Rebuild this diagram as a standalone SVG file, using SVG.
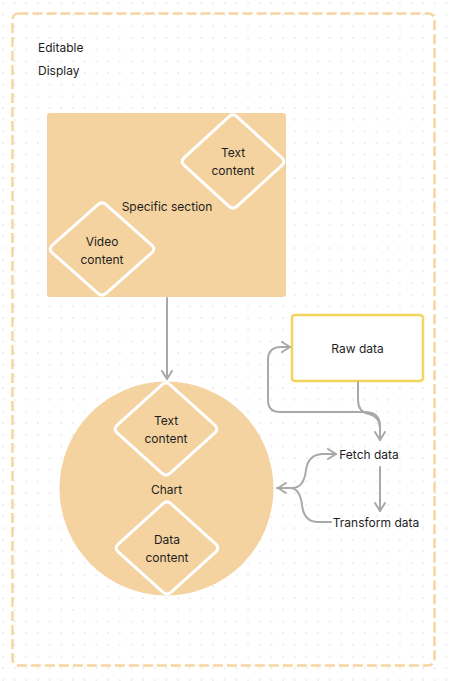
<svg xmlns="http://www.w3.org/2000/svg" width="451" height="681" viewBox="0 0 451 681">
<defs>
<pattern id="dots" x="2" y="2" width="11.67" height="11.67" patternUnits="userSpaceOnUse">
<circle cx="1" cy="1" r="0.75" fill="#d6d6d6"/>
</pattern>
<marker id="arr" viewBox="0 0 12 12" refX="10" refY="6" markerWidth="12" markerHeight="12" markerUnits="userSpaceOnUse" orient="auto">
<path d="M2,1 L10,6 L2,11" fill="none" stroke="#a8a8a8" stroke-width="2" stroke-linecap="round" stroke-linejoin="round"/>
</marker>
</defs>
<style>
text{font-family:Inter,"Noto Sans","Liberation Sans",sans-serif;font-size:12px;fill:#1e1e1e;text-anchor:middle;dominant-baseline:central}
.shape{fill:#f4d3a0}
.dia{fill:#f4d3a0;stroke:#ffffff;stroke-width:3;stroke-linejoin:round}
.conn{fill:none;stroke:#a8a8a8;stroke-width:2;stroke-linecap:round;stroke-linejoin:round}
</style>
<rect width="451" height="681" fill="#ffffff"/>
<rect width="451" height="681" fill="url(#dots)"/>
<g id="frame">
<rect x="12.5" y="13.5" width="422" height="652" rx="6" fill="none" stroke="#f5d5a0" stroke-width="2.5" stroke-dasharray="10 4"/>
<text x="38" y="47" style="text-anchor:start">Editable</text>
<text x="38" y="70" style="text-anchor:start">Display</text>
</g>
<g id="specific-section">
<rect x="47" y="113" width="239" height="184" rx="3" class="shape"/>
<text x="167" y="206">Specific section</text>
</g>
<g id="text-content-1">
<path d="M237.2,116.9 L281.8,157.6 Q286,161.5 281.8,165.4 L237.2,206.1 Q233,210 228.8,206.1 L184.2,165.4 Q180,161.5 184.2,157.6 L228.8,116.9 Q233,113 237.2,116.9 Z" class="dia"/>
<text x="233" y="152">Text</text>
<text x="233" y="170">content</text>
</g>
<g id="video-content">
<path d="M106.3,204.8 L151.7,245.2 Q156,249 151.7,252.8 L106.3,293.2 Q102,297 97.7,293.2 L52.3,252.8 Q48,249 52.3,245.2 L97.7,204.8 Q102,201 106.3,204.8 Z" class="dia"/>
<text x="102" y="241">Video</text>
<text x="102" y="259">content</text>
</g>
<g id="chart">
<circle cx="166.5" cy="488.5" r="107" class="shape"/>
<text x="166.5" y="489">Chart</text>
</g>
<g id="text-content-2">
<path d="M170.2,384.8 L214.8,425.2 Q219,429 214.8,432.8 L170.2,473.2 Q166,477 161.8,473.2 L117.2,432.8 Q113,429 117.2,425.2 L161.8,384.8 Q166,381 170.2,384.8 Z" class="dia"/>
<text x="166" y="420">Text</text>
<text x="166" y="438">content</text>
</g>
<g id="data-content">
<path d="M171.2,503.8 L215.8,544.2 Q220,548 215.8,551.8 L171.2,592.2 Q167,596 162.8,592.2 L118.2,551.8 Q114,548 118.2,544.2 L162.8,503.8 Q167,500 171.2,503.8 Z" class="dia"/>
<text x="167" y="539">Data</text>
<text x="167" y="557">content</text>
</g>
<g id="raw-data">
<rect x="292" y="315" width="131" height="66" rx="3" fill="#ffffff" stroke="#f5d45c" stroke-width="2.5"/>
<text x="357.5" y="348">Raw data</text>
</g>
<g id="fetch-data">
<text x="369" y="454">Fetch data</text>
</g>
<g id="transform-data">
<text x="376" y="522">Transform data</text>
</g>
<g id="connectors">
<path d="M167,298 L167,379" class="conn" marker-end="url(#arr)"/>
<path d="M358,382 L358,400 Q358,412 369,414 Q380,417 380,428 L380,440" class="conn" marker-end="url(#arr)"/>
<path d="M380,440 L380,426 Q380,413 366,412 L280,412 Q268,412 268,400 L268,360 Q268,347 281,347 L290,347" class="conn" marker-end="url(#arr)"/>
<path d="M380,467 L380,511" class="conn" marker-end="url(#arr)"/>
<path d="M277,488 L292,488 Q304,488 306,470 Q308,455 322,454 L336,454" class="conn" marker-end="url(#arr)"/>
<path d="M331,522 L318,522 Q304,522 302,505 Q300,488 290,488 L278,488" class="conn" marker-end="url(#arr)"/>
</g>
</svg>
